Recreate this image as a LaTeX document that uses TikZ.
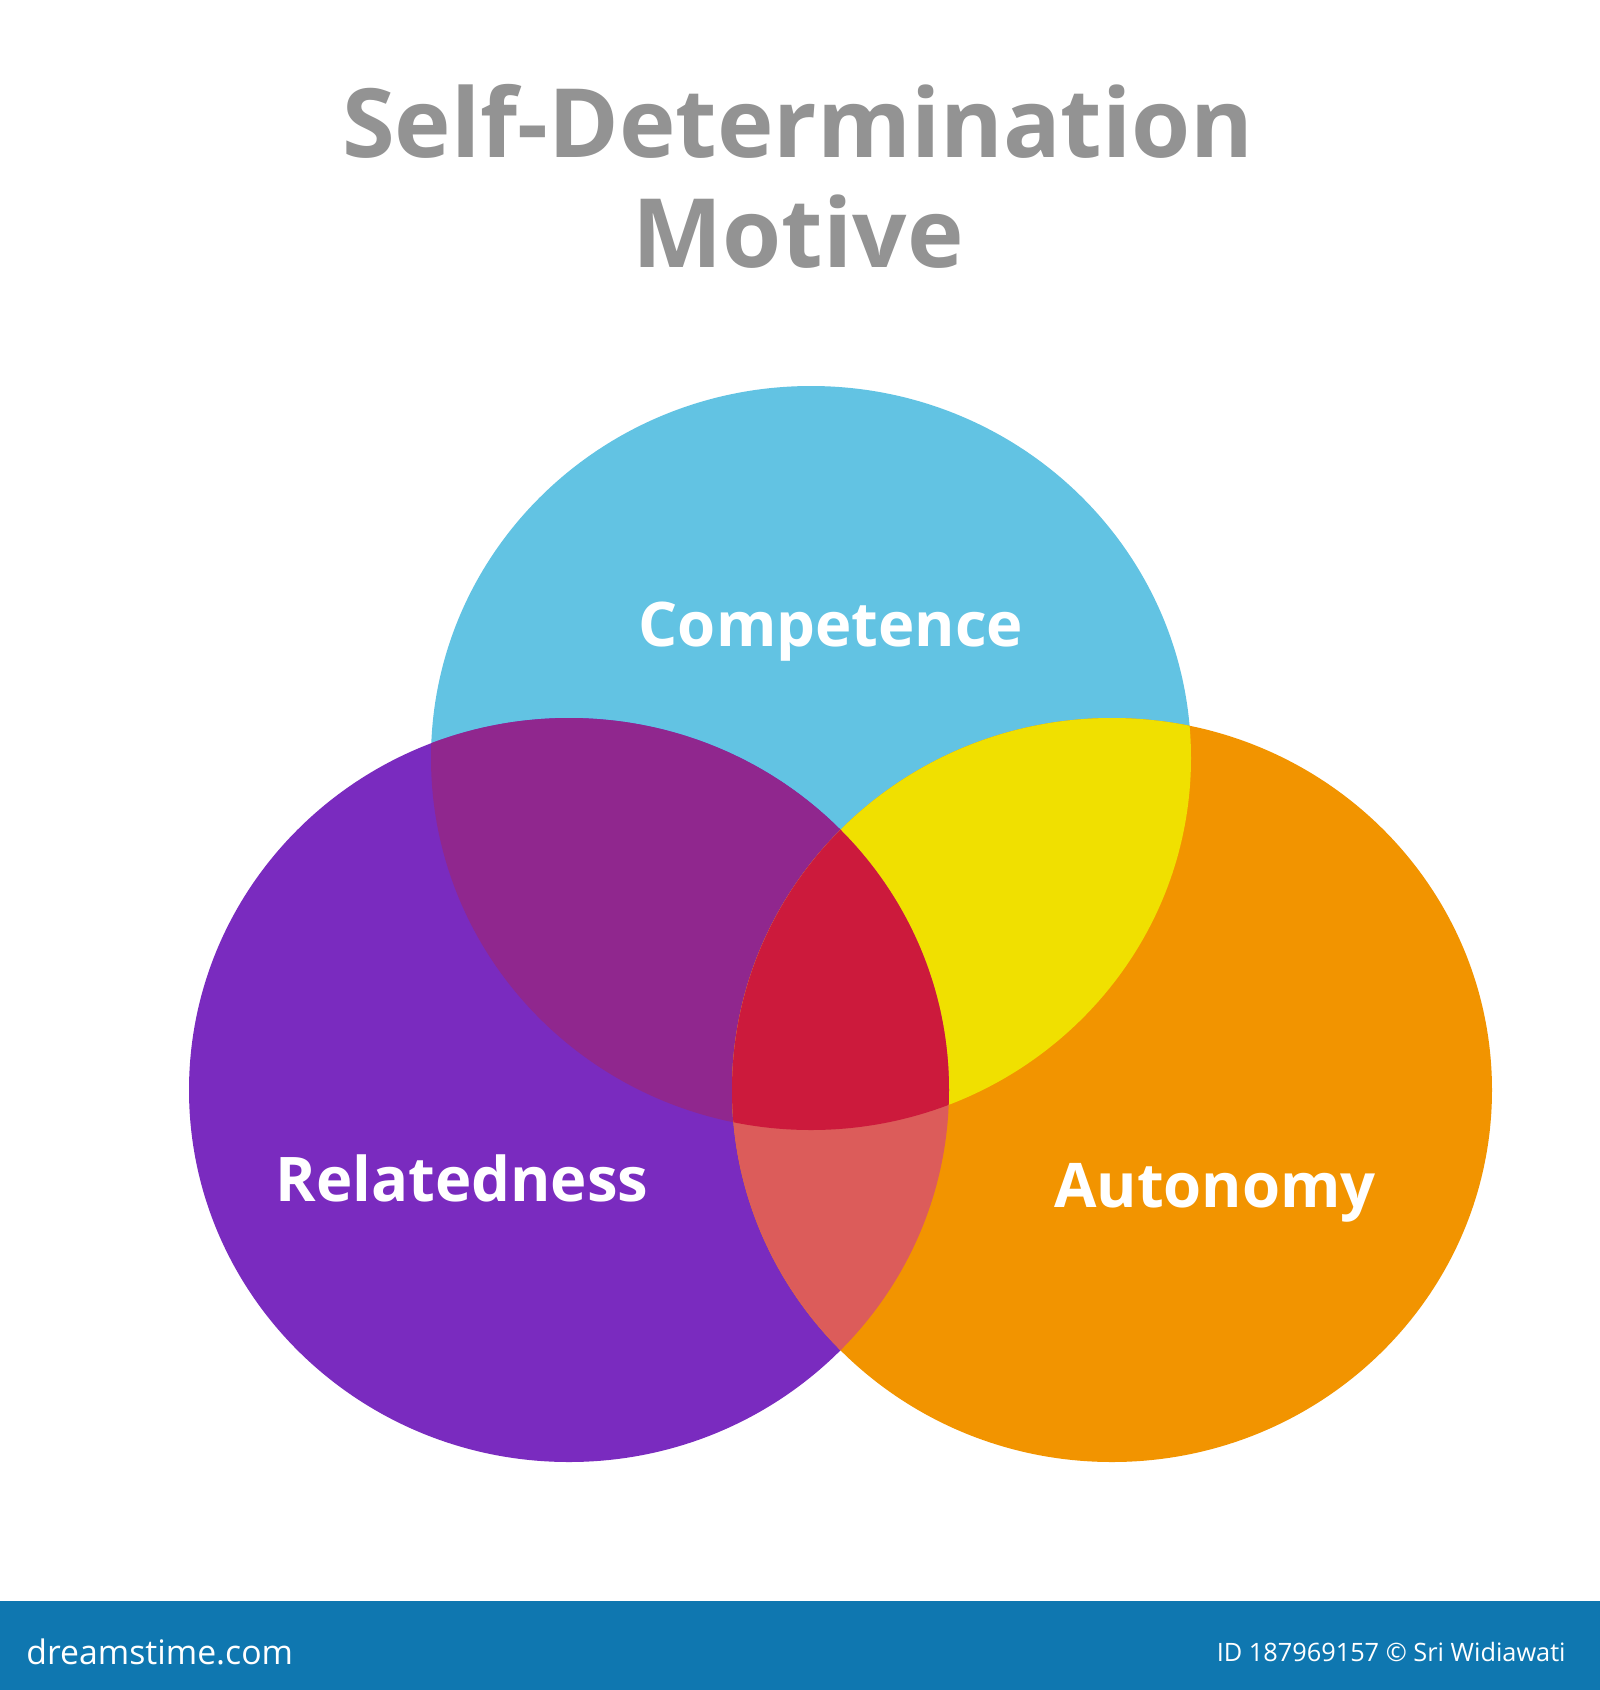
\documentclass[tikz,border=0pt]{standalone}
\usepackage{fontspec}
\setmainfont{Open Sans}
\usepackage{tikz}
\usetikzlibrary{positioning}
\usepackage{xcolor}

\definecolor{titlegray}{HTML}{939393}
\definecolor{compblue}{HTML}{62C3E3}
\definecolor{relpurple}{HTML}{7A2BBF}
\definecolor{autorange}{HTML}{F29400}
\definecolor{comprel}{HTML}{90278E}
\definecolor{compauto}{HTML}{F0E000}
\definecolor{relauto}{HTML}{DC5C5A}
\definecolor{allthree}{HTML}{CC1A3C}
\definecolor{barblue}{HTML}{0F77B0}

\def\compcirc{(811,758) ellipse[x radius=380, y radius=372]}
\def\relcirc{(569,1090) ellipse[x radius=380, y radius=372]}
\def\autocirc{(1112,1090) ellipse[x radius=380, y radius=372]}

\begin{document}
\begin{tikzpicture}[x=0.01cm, y=-0.01cm,
  title/.style={font=\fontsize{27.2}{33}\selectfont\bfseries, text=titlegray, align=center},
  setlabel/.style={font=\fontsize{17.5}{21}\selectfont\bfseries, text=white},
  barlabel/.style={text=white}
]
\useasboundingbox (0,0) rectangle (1600,1690);
\fill[white] (0,0) rectangle (1600,1690);

% title
\node[title] (titleA) at (798,121) {Self-Determination};
\node[title] (titleB) at (798,232) {Motive};

% the three sets
\fill[compblue] \compcirc;
\fill[relpurple] \relcirc;
\fill[autorange] \autocirc;

% overlaps
\begin{scope}
  \clip \compcirc;
  \fill[comprel] \relcirc;
  \fill[compauto] \autocirc;
\end{scope}
\begin{scope}
  \clip \relcirc;
  \fill[relauto] \autocirc;
  \clip \autocirc;
  \fill[allthree] \compcirc;
\end{scope}

\node[setlabel] (competence) at (831,632) {Competence};
\node[setlabel] (relatedness) at (462,1178) {Relatedness};
\node[setlabel] (autonomy) at (1215,1193) {Autonomy};

% bottom bar
\fill[barblue] (0,1601) rectangle (1600,1690);
\node[barlabel, font=\fontsize{9.6}{11}\selectfont, anchor=west] (site) at (14,1652) {dreamstime.com};
\node[barlabel, font=\fontsize{7.2}{9}\selectfont, anchor=east] (credit) at (1578,1652) {ID 187969157 © Sri Widiawati};
\end{tikzpicture}
\end{document}
